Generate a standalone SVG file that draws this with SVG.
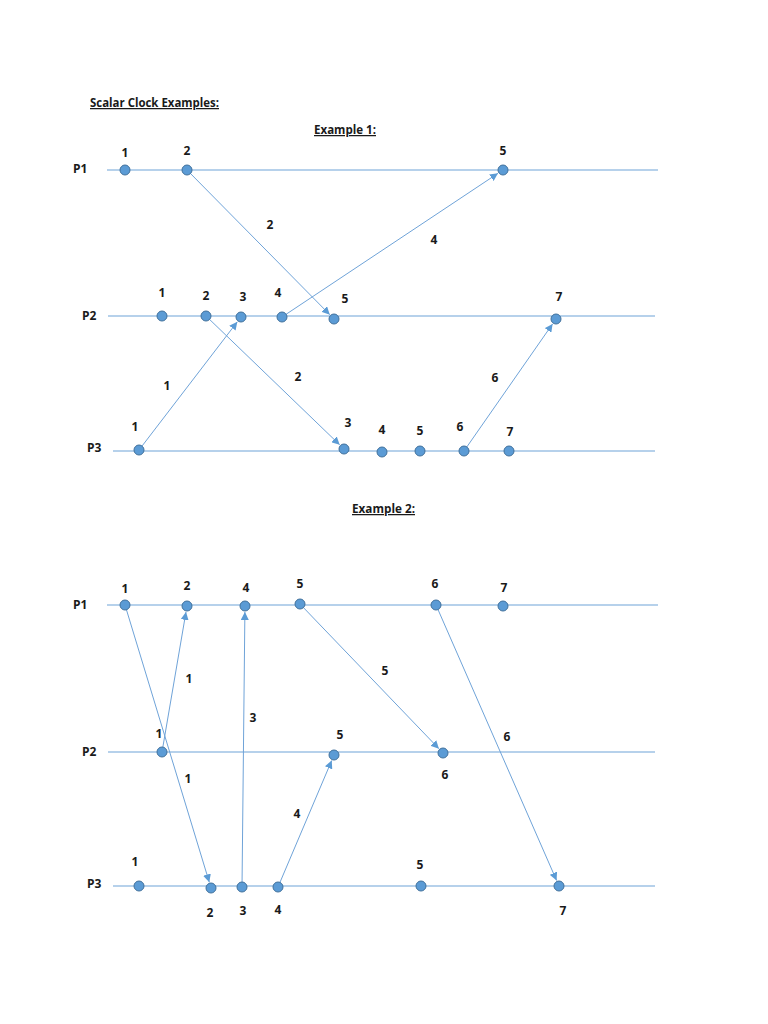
<svg xmlns="http://www.w3.org/2000/svg" width="768" height="1024" viewBox="0 0 768 1024">
<defs>
<marker id="arr" viewBox="0 0 10 10" refX="10" refY="5" markerWidth="8" markerHeight="8" markerUnits="userSpaceOnUse" orient="auto">
<path d="M0,0 L10,5 L0,10 z" fill="#5b9bd5"/>
</marker>
</defs>
<style>
.bg{fill:#ffffff}
.tl{stroke:#6fa3d8;stroke-width:1.2;fill:none}
.msg{stroke:#6fa3d8;stroke-width:1;fill:none;marker-end:url(#arr)}
.ev{fill:#5b9bd5;stroke:#41719c;stroke-width:1}
text{font-family:"Open Sans","Liberation Sans",sans-serif;font-weight:bold;font-size:12px;fill:#1a1a1a}
.lab{text-anchor:middle}
.ttl{font-size:12.5px;text-decoration:underline}
</style>
<rect class="bg" x="0" y="0" width="768" height="1024"/>
<text class="ttl" x="90" y="107" textLength="129" lengthAdjust="spacingAndGlyphs">Scalar Clock Examples:</text>
<text class="ttl" x="314" y="134" textLength="62" lengthAdjust="spacingAndGlyphs">Example 1:</text>
<text class="ttl" x="352" y="513" textLength="63" lengthAdjust="spacingAndGlyphs">Example 2:</text>

<g id="timelines">
<line class="tl" x1="107" y1="170" x2="658" y2="170"/>
<line class="tl" x1="108" y1="316" x2="655" y2="316"/>
<line class="tl" x1="113" y1="451" x2="655" y2="451"/>
<line class="tl" x1="107" y1="605" x2="658" y2="605"/>
<line class="tl" x1="108" y1="752" x2="655" y2="752"/>
<line class="tl" x1="113" y1="886" x2="655" y2="886"/>
</g>
<g id="process-labels">
<text x="73" y="173">P1</text>
<text x="82" y="320">P2</text>
<text x="87" y="452">P3</text>
<text x="73" y="609">P1</text>
<text x="82" y="756">P2</text>
<text x="87" y="888">P3</text>
</g>

<g id="connectors">
<line class="msg" x1="187" y1="170" x2="329.8" y2="314.7"/>
<line class="msg" x1="282" y1="317" x2="498" y2="173.3"/>
<line class="msg" x1="139" y1="450" x2="237.3" y2="321.8"/>
<line class="msg" x1="206" y1="316" x2="339.7" y2="444.8"/>
<line class="msg" x1="464" y1="451" x2="552.6" y2="323.9"/>
<line class="msg" x1="125" y1="605" x2="209.3" y2="882.3"/>
<line class="msg" x1="162" y1="752" x2="186" y2="611.9"/>
<line class="msg" x1="242" y1="887" x2="244.9" y2="612"/>
<line class="msg" x1="278" y1="887" x2="331.7" y2="760.5"/>
<line class="msg" x1="300" y1="604" x2="438.9" y2="748.7"/>
<line class="msg" x1="436" y1="605" x2="556.6" y2="880.5"/>
</g>
<g id="message-labels">
<text class="lab" x="270" y="229">2</text>
<text class="lab" x="434" y="244">4</text>
<text class="lab" x="167" y="390">1</text>
<text class="lab" x="298" y="381">2</text>
<text class="lab" x="495" y="382">6</text>
<text class="lab" x="189" y="683">1</text>
<text class="lab" x="188" y="783">1</text>
<text class="lab" x="253" y="722">3</text>
<text class="lab" x="297" y="818">4</text>
<text class="lab" x="385" y="675">5</text>
<text class="lab" x="507" y="741">6</text>
</g>

<g id="ex1-p1">
<g id="e1p1-1"><circle class="ev" cx="125" cy="170" r="5"/><text class="lab" x="125" y="157">1</text></g>
<g id="e1p1-2"><circle class="ev" cx="187" cy="170" r="5"/><text class="lab" x="187" y="155">2</text></g>
<g id="e1p1-5"><circle class="ev" cx="503" cy="170" r="5"/><text class="lab" x="503" y="155">5</text></g>
</g>
<g id="ex1-p2">
<g id="e1p2-1"><circle class="ev" cx="162" cy="316" r="5"/><text class="lab" x="162" y="297">1</text></g>
<g id="e1p2-2"><circle class="ev" cx="206" cy="316" r="5"/><text class="lab" x="206" y="300">2</text></g>
<g id="e1p2-3"><circle class="ev" cx="241" cy="317" r="5"/><text class="lab" x="243" y="301">3</text></g>
<g id="e1p2-4"><circle class="ev" cx="282" cy="317" r="5"/><text class="lab" x="278" y="297">4</text></g>
<g id="e1p2-5"><circle class="ev" cx="334" cy="319" r="5"/><text class="lab" x="345" y="303">5</text></g>
<g id="e1p2-7"><circle class="ev" cx="556" cy="319" r="5"/><text class="lab" x="559" y="301">7</text></g>
</g>
<g id="ex1-p3">
<g id="e1p3-1"><circle class="ev" cx="139" cy="450" r="5"/><text class="lab" x="135" y="431">1</text></g>
<g id="e1p3-3"><circle class="ev" cx="344" cy="449" r="5"/><text class="lab" x="348" y="427">3</text></g>
<g id="e1p3-4"><circle class="ev" cx="382" cy="452" r="5"/><text class="lab" x="382" y="434">4</text></g>
<g id="e1p3-5"><circle class="ev" cx="420" cy="451" r="5"/><text class="lab" x="420" y="435">5</text></g>
<g id="e1p3-6"><circle class="ev" cx="464" cy="451" r="5"/><text class="lab" x="460" y="431">6</text></g>
<g id="e1p3-7"><circle class="ev" cx="509" cy="451" r="5"/><text class="lab" x="510" y="436">7</text></g>
</g>

<g id="ex2-p1">
<g id="e2p1-1"><circle class="ev" cx="125" cy="605" r="5"/><text class="lab" x="125" y="593">1</text></g>
<g id="e2p1-2"><circle class="ev" cx="187" cy="606" r="5"/><text class="lab" x="187" y="590">2</text></g>
<g id="e2p1-4"><circle class="ev" cx="245" cy="606" r="5"/><text class="lab" x="246" y="592">4</text></g>
<g id="e2p1-5"><circle class="ev" cx="300" cy="604" r="5"/><text class="lab" x="300" y="588">5</text></g>
<g id="e2p1-6"><circle class="ev" cx="436" cy="605" r="5"/><text class="lab" x="435" y="588">6</text></g>
<g id="e2p1-7"><circle class="ev" cx="503" cy="606" r="5"/><text class="lab" x="504" y="592">7</text></g>
</g>
<g id="ex2-p2">
<g id="e2p2-1"><circle class="ev" cx="162" cy="752" r="5"/><text class="lab" x="159" y="738">1</text></g>
<g id="e2p2-5"><circle class="ev" cx="334" cy="755" r="5"/><text class="lab" x="340" y="739">5</text></g>
<g id="e2p2-6"><circle class="ev" cx="443" cy="753" r="5"/><text class="lab" x="445" y="779">6</text></g>
</g>
<g id="ex2-p3">
<g id="e2p3-1"><circle class="ev" cx="139" cy="886" r="5"/><text class="lab" x="135" y="866">1</text></g>
<g id="e2p3-2"><circle class="ev" cx="211" cy="888" r="5"/><text class="lab" x="210" y="917">2</text></g>
<g id="e2p3-3"><circle class="ev" cx="242" cy="887" r="5"/><text class="lab" x="243" y="915">3</text></g>
<g id="e2p3-4"><circle class="ev" cx="278" cy="887" r="5"/><text class="lab" x="278" y="914">4</text></g>
<g id="e2p3-5"><circle class="ev" cx="421" cy="886" r="5"/><text class="lab" x="420" y="869">5</text></g>
<g id="e2p3-7"><circle class="ev" cx="559" cy="886" r="5"/><text class="lab" x="563" y="915">7</text></g>
</g>
</svg>
